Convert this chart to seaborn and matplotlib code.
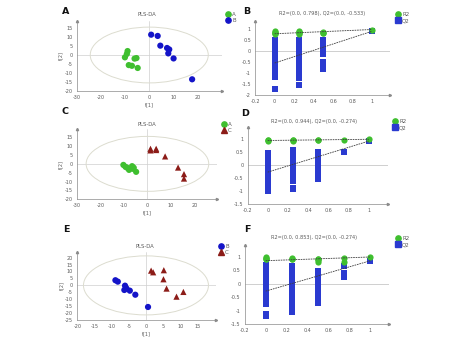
import numpy as np
import pandas as pd
import matplotlib
matplotlib.use("Agg")
import matplotlib.pyplot as plt
from matplotlib.patches import Ellipse
from matplotlib.lines import Line2D
import seaborn as sns

# ---------------- PLS-DA score data ----------------
a_t1 = [-9.0, -9.3, -10.1, -6.1, -5.3, -8.5, -7.2, -4.8]
a_t2 = [2.2, 0.6, -1.3, -2.0, -1.7, -5.6, -6.0, -7.2]
b_t1 = [0.8, 3.5, 4.6, 7.4, 8.3, 7.9, 10.1, 17.8]
b_t2 = [11.3, 10.6, 5.2, 3.9, 3.1, 0.9, -1.9, -13.5]

c_a_t1 = [-10.2, -9.3, -7.8, -6.5, -6.2, -4.8, -8.6, -5.8]
c_a_t2 = [-0.6, -1.7, -3.4, -1.3, -2.8, -4.5, -2.2, -2.2]
c_c_t1 = [1.3, 1.3, 3.7, 3.7, 7.5, 13.0, 15.5, 15.5]
c_c_t2 = [8.5, 7.6, 8.5, 7.8, 4.2, -2.1, -5.8, -8.3]

e_b_t1 = [-8.9, -8.2, -6.1, -6.3, -5.7, -4.7, -3.1, 0.6]
e_b_t2 = [3.7, 2.7, -0.2, -3.3, -2.1, -3.8, -6.7, -15.5]
e_c_t1 = [1.5, 2.1, 5.2, 5.1, 6.0, 8.9, 10.9]
e_c_t2 = [10.6, 9.4, 10.9, 4.4, -2.3, -8.1, -4.7]

# ---------------- permutation test data ----------------
b_perm_x = [0, 0.25, 0.5, 1]
b_r2 = [[0.79, 0.82, 0.85, 0.88, 0.91],
        [0.80, 0.83, 0.86, 0.89, 0.91],
        [0.82, 0.85, 0.88],
        [0.99]]
b_q2 = [[0.52, 0.45, 0.38, 0.31, 0.25, 0.17, 0.11, 0.04, -0.03, -0.10, -0.16,
         -0.23, -0.30, -0.36, -0.43, -0.50, -0.57, -0.63, -0.70, -0.77, -0.84,
         -0.90, -0.97, -1.04, -1.10, -1.15, -1.71],
        [0.50, 0.43, 0.36, 0.29, 0.22, 0.15, 0.08, 0.02, -0.05, -0.12, -0.19,
         -0.26, -0.33, -0.40, -0.47, -0.54, -0.61, -0.68, -0.75, -0.82, -0.89,
         -0.96, -1.03, -1.10, -1.17, -1.23, -1.55],
        [0.50, 0.43, 0.36, 0.29, 0.22, 0.15, 0.08, 0.01, -0.06, -0.13,
         -0.50, -0.56, -0.62, -0.68, -0.74, -0.81],
        [0.91]]
b_r2_line = (0.798, 0.99)
b_q2_line = (-0.533, 0.91)

d_perm_x = [0, 0.25, 0.5, 0.75, 1]
d_r2 = [[0.93, 0.95, 0.97], [0.93, 0.95, 0.97], [0.95, 0.96], [0.95], [0.99]]
d_q2 = [[0.48, 0.42, 0.36, 0.30, 0.24, 0.18, 0.12, 0.06, 0.00, -0.06, -0.12,
         -0.18, -0.24, -0.30, -0.36, -0.42, -0.48, -0.54, -0.60, -0.66, -0.69,
         -0.93, -0.99],
        [0.56, 0.50, 0.44, 0.38, 0.32, 0.26, 0.20, 0.14, 0.08, 0.02, -0.04,
         -0.10, -0.16, -0.22, -0.28, -0.34, -0.40, -0.46, -0.52, -0.58, -0.62,
         -0.88, -0.92],
        [0.50, 0.28, 0.22, 0.16, 0.10, 0.04, -0.02, -0.08, -0.14, -0.20,
         -0.26, -0.32, -0.38, -0.44, -0.50, -0.52],
        [0.50],
        [0.92]]
d_r2_line = (0.944, 0.99)
d_q2_line = (-0.274, 0.92)

f_perm_x = [0, 0.25, 0.5, 0.75, 1]
f_r2 = [[0.90, 0.93, 0.96, 0.99], [0.91, 0.93, 0.95], [0.80, 0.87, 0.90, 0.93],
        [0.81, 0.97], [1.00]]
f_q2 = [[0.70, 0.64, 0.58, 0.52, 0.46, 0.40, 0.34, 0.28, 0.22, 0.16, 0.10,
         0.04, -0.02, -0.08, -0.14, -0.20, -0.26, -0.32, -0.38, -0.44, -0.50,
         -0.56, -0.62, -0.68, -0.74, -1.12, -1.20],
        [0.67, 0.61, 0.55, 0.49, 0.43, 0.37, 0.31, 0.25, 0.19, 0.13, 0.07,
         0.01, -0.05, -0.11, -0.17, -0.23, -0.29, -0.35, -0.41, -0.47, -0.53,
         -0.59, -0.65, -0.71, -0.77, -0.83, -1.06],
        [0.46, 0.40, 0.34, 0.28, 0.22, 0.16, 0.10, 0.04, -0.02, -0.08, -0.20,
         -0.30, -0.40, -0.50, -0.72],
        [0.64, 0.40, 0.26],
        [0.85]]
f_r2_line = (0.853, 0.99)
f_q2_line = (-0.274, 0.85)

# ---------------- styling ----------------
GREEN = "#3fbf2f"
BLUE = "#1414c8"
SQ_BLUE = "#2a3ad0"
RED = "#8c1c18"
AXIS = "#8a8a8a"
TXT = "#5a5a5a"

sns.set_theme(style="white")
plt.rcParams["font.family"] = ["DejaVu Sans"]

W, H = 474, 343
fig = plt.figure(figsize=(W / 100, H / 100), dpi=100)
fig.patch.set_facecolor("white")


def add_axes_px(left, right, top, bottom):
    return fig.add_axes([left / W, 1 - bottom / H, (right - left) / W, (bottom - top) / H])


def fmt(v):
    s = f"{v:g}"
    return "0" if s == "-0" else s


def style(ax, xlim, ylim, xticks, yticks):
    ax.set_xlim(*xlim)
    ax.set_ylim(*ylim)
    ax.set_facecolor("white")
    for side in ("top", "right"):
        ax.spines[side].set_visible(False)
    for side in ("left", "bottom"):
        ax.spines[side].set_color(AXIS)
        ax.spines[side].set_linewidth(0.5)
    ax.set_xticks(xticks)
    ax.set_yticks(yticks)
    ax.set_xticklabels([fmt(v) for v in xticks])
    ax.set_yticklabels([fmt(v) for v in yticks])
    ax.tick_params(labelsize=3.5, colors=TXT, length=1.5, width=0.4, pad=1.5)
    for t in ax.get_xticklines() + ax.get_yticklines():
        t.set_color(AXIS)
    ax.plot(1, 0, ">", transform=ax.transAxes, clip_on=False, ms=1.6, color=AXIS)
    ax.plot(0, 1, "^", transform=ax.transAxes, clip_on=False, ms=1.6, color=AXIS)
    ax.grid(False)


def pls_panel(ax, groups, ell, xlim, ylim, xticks, yticks):
    ax.axhline(0, color="#cfcfcf", lw=0.5, zorder=0)
    ax.axvline(0, color="#cfcfcf", lw=0.5, zorder=0)
    ax.add_patch(Ellipse((0, 0), 2 * ell[0], 2 * ell[1], fill=False,
                         edgecolor="#dcdccf", lw=0.7, zorder=0))
    rows = []
    for name, xs, ys in groups:
        rows += [(x, y, name) for x, y in zip(xs, ys)]
    df = pd.DataFrame(rows, columns=["t1", "t2", "group"])
    pal = {"A": GREEN, "B": BLUE, "C": RED}
    mk = {"A": "o", "B": "o", "C": "^"}
    names = [g[0] for g in groups]
    sns.scatterplot(data=df, x="t1", y="t2", hue="group", style="group",
                    palette={n: pal[n] for n in names},
                    markers={n: mk[n] for n in names},
                    s=20, linewidth=0, legend=False, ax=ax, zorder=3)
    style(ax, xlim, ylim, xticks, yticks)
    ax.set_xlabel("t[1]", fontsize=3.5, color=TXT, labelpad=1.5)
    ax.set_ylabel("t[2]", fontsize=3.5, color=TXT, labelpad=1)
    return names, pal, mk


def perm_panel(ax, xs, r2, q2, r2_line, q2_line, xlim, ylim, yticks):
    ax.axhline(0, color="#c8c8c8", lw=0.6, zorder=0)
    rows = []
    for x, vals in zip(xs, q2):
        rows += [(x, v, "Q2") for v in vals]
    for x, vals in zip(xs, r2):
        rows += [(x, v, "R2") for v in vals]
    df = pd.DataFrame(rows, columns=["corr", "value", "kind"])
    sns.scatterplot(data=df[df.kind == "Q2"], x="corr", y="value", marker="s",
                    color=SQ_BLUE, s=14, linewidth=0, ax=ax, zorder=3, legend=False)
    sns.scatterplot(data=df[df.kind == "R2"], x="corr", y="value", marker="o",
                    color=GREEN, s=20, linewidth=0, ax=ax, zorder=4, legend=False)
    ax.plot([0, 1], list(r2_line), ls=(0, (2, 1)), color="#3c3c3c", lw=0.6, zorder=5)
    ax.plot([0, 1], list(q2_line), ls=(0, (2, 1)), color="#3c3c3c", lw=0.6, zorder=5)
    style(ax, xlim, ylim, [-0.2, 0, 0.2, 0.4, 0.6, 0.8, 1], yticks)
    ax.set_xlabel("")
    ax.set_ylabel("")


def legend(ax, entries, x, y):
    handles = [Line2D([], [], ls="", marker=m, color=c, ms=3.8) for _, m, c in entries]
    ax.legend(handles, [e[0] for e in entries], loc="upper left",
              bbox_to_anchor=(x / W, 1 - y / H), bbox_transform=fig.transFigure,
              frameon=False, fontsize=4, handlelength=0.8, handletextpad=0.3,
              labelspacing=0.2, borderpad=0, borderaxespad=0, labelcolor=TXT)


# ---- A ----
axA = add_axes_px(77, 221.5, 21, 91)
pls_panel(axA, [("A", a_t1, a_t2), ("B", b_t1, b_t2)], (24.5, 15.5),
          (-30, 30), (-20, 18.9), [-30, -20, -10, 0, 10, 20], list(range(-20, 16, 5)))
legend(axA, [("A", "o", GREEN), ("B", "o", BLUE)], 226, 12)

# ---- C ----
axC = add_axes_px(76.7, 217, 129.3, 199.3)
pls_panel(axC, [("A", c_a_t1, c_a_t2), ("C", c_c_t1, c_c_t2)], (26, 15.5),
          (-30, 29.5), (-20, 19.5), [-30, -20, -10, 0, 10, 20], list(range(-20, 16, 5)))
legend(axC, [("A", "o", GREEN), ("C", "^", RED)], 222, 121.5)

# ---- E ----
axE = add_axes_px(77.3, 216, 251.7, 320.2)
pls_panel(axE, [("B", e_b_t1, e_b_t2), ("C", e_c_t1, e_c_t2)], (18.2, 21.2),
          (-20, 20.4), (-25, 24.2), list(range(-20, 16, 5)), list(range(-25, 21, 5)))
legend(axE, [("B", "o", BLUE), ("C", "^", RED)], 219, 244)

# ---- B ----
axB = add_axes_px(255.2, 389.5, 20.5, 95.3)
perm_panel(axB, b_perm_x, b_r2, b_q2, b_r2_line, b_q2_line, (-0.2, 1.18), (-2, 1.4),
           [-2, -1.5, -1, -0.5, 0, 0.5, 1])
legend(axB, [("R2", "o", GREEN), ("Q2", "s", SQ_BLUE)], 396, 12)

# ---- D ----
axD = add_axes_px(247.5, 388, 126.8, 204)
perm_panel(axD, d_perm_x, d_r2, d_q2, d_r2_line, d_q2_line, (-0.2, 1.19), (-1.5, 1.47),
           [-1.5, -1, -0.5, 0, 0.5, 1])
legend(axD, [("R2", "o", GREEN), ("Q2", "s", SQ_BLUE)], 393, 119)

# ---- F ----
axF = add_axes_px(244.8, 389.1, 245.1, 324.2)
perm_panel(axF, f_perm_x, f_r2, f_q2, f_r2_line, f_q2_line, (-0.2, 1.18), (-1.5, 1.43),
           [-1.5, -1, -0.5, 0, 0.5, 1])
legend(axF, [("R2", "o", GREEN), ("Q2", "s", SQ_BLUE)], 396, 236)

# ---- titles ----
def ftext(x, y, s, **kw):
    fig.text(x / W, 1 - y / H, s, ha="center", va="center", color=TXT, **kw)

ftext(147, 15, "PLS-DA", fontsize=3.8)
ftext(147, 124.5, "PLS-DA", fontsize=3.8)
ftext(145, 246, "PLS-DA", fontsize=3.8)
ftext(322, 14, f"R2=(0.0, {b_r2_line[0]}), Q2=(0.0, {b_q2_line[0]})", fontsize=3.6)
ftext(314, 121, f"R2=(0.0, {d_r2_line[0]}), Q2=(0.0, {d_q2_line[0]})", fontsize=3.6)
ftext(314, 238, f"R2=(0.0, {f_r2_line[0]}), Q2=(0.0, {f_q2_line[0]})", fontsize=3.6)

# ---- panel letters ----
for letter, x, y in [("A", 66, 11), ("B", 247, 11), ("C", 65, 112),
                     ("D", 245, 113), ("E", 66, 230), ("F", 247, 229)]:
    fig.text(x / W, 1 - y / H, letter, ha="center", va="center",
             fontsize=6.8, fontweight="bold", color="#111111")

fig.savefig("out.png", dpi=100, facecolor="white")
